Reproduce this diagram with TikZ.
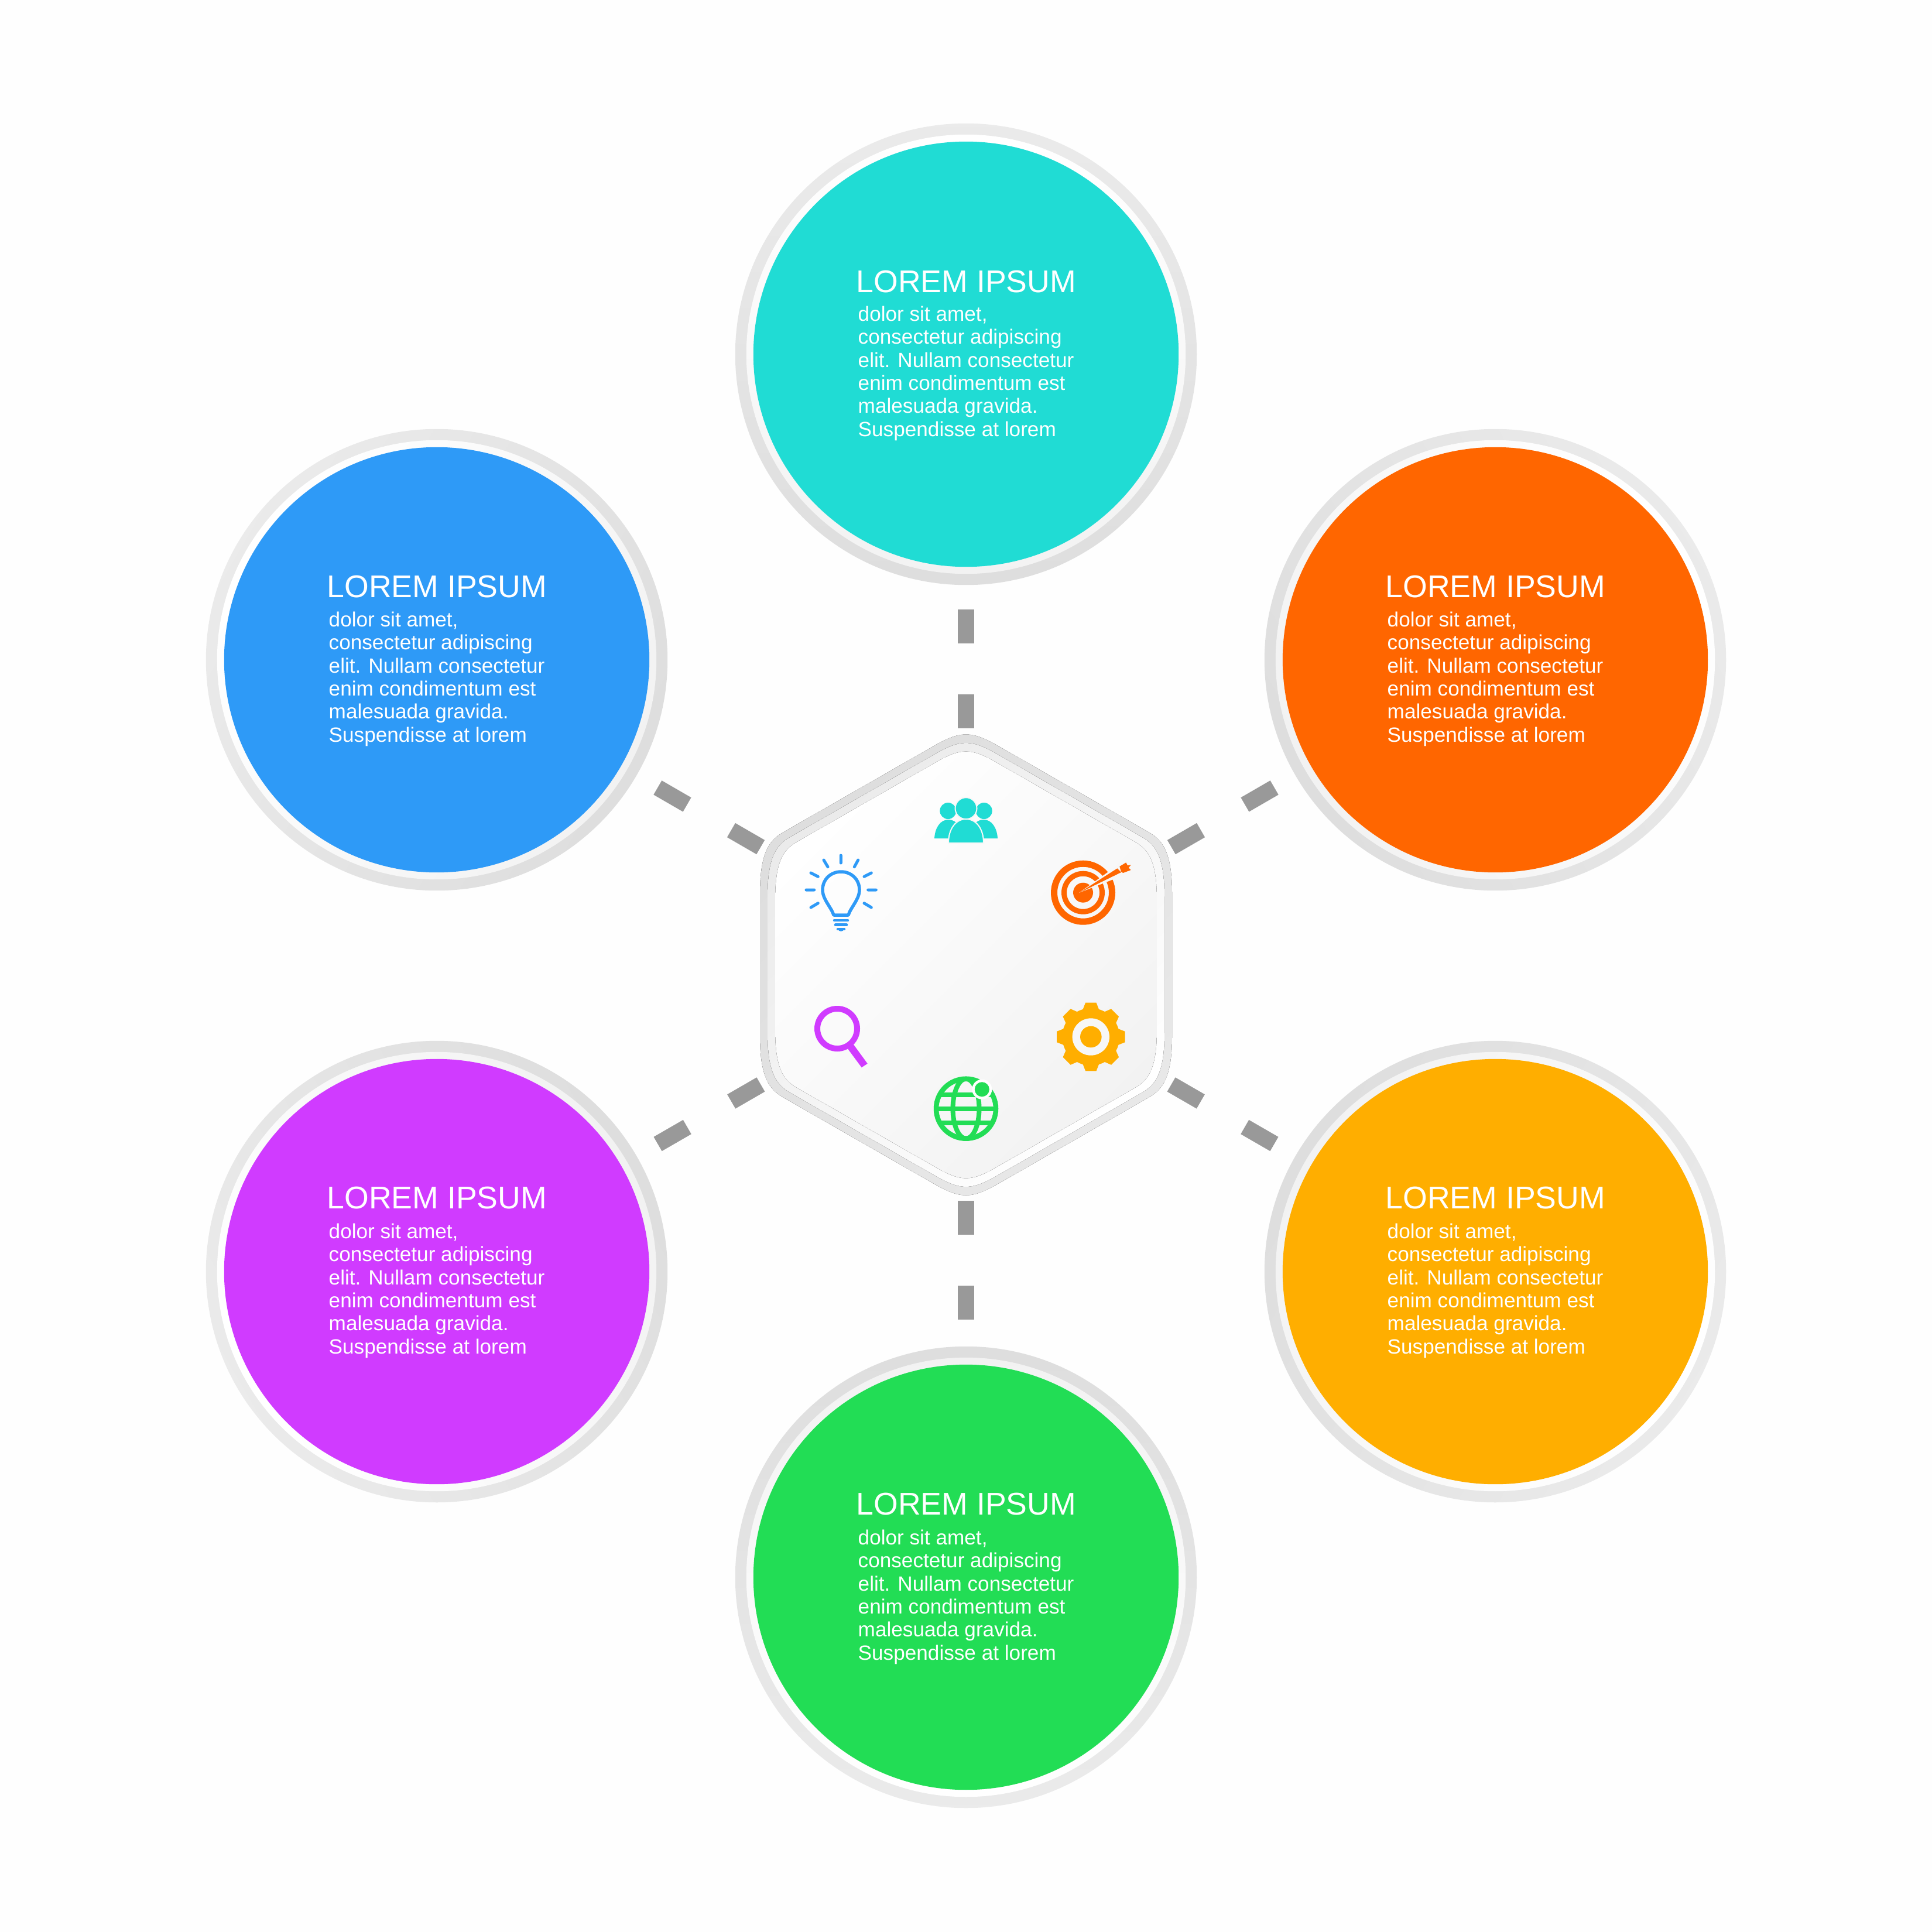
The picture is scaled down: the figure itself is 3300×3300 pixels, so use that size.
\documentclass[tikz,border=0pt]{standalone}
\usepackage{fontspec}
\setmainfont{Liberation Sans}
\definecolor{tealdisk}{HTML}{20DCD4}
\definecolor{orangedisk}{HTML}{FF6600}
\definecolor{amberdisk}{HTML}{FFAE00}
\definecolor{greendisk}{HTML}{22DD55}
\definecolor{violetdisk}{HTML}{D03BFF}
\definecolor{bluedisk}{HTML}{2E9AF7}
\definecolor{hubtone}{HTML}{F7F7F7}
\definecolor{pagetone}{HTML}{FEFEFE}
\tikzset{
	ringouter/.style={circle, inner sep=0pt, minimum size=7.88cm, top color=black!8, bottom color=black!13, shading angle=#1},
	ringinner/.style={circle, inner sep=0pt, minimum size=7.50cm, top color=white, bottom color=black!5, shading angle=#1},
	disk/.style={circle, inner sep=0pt, minimum size=7.26cm, fill=#1},
	headtext/.style={anchor=base west, inner sep=0pt, text=white, font=\fontsize{15.25}{18}\selectfont},
	bodytext/.style={anchor=north west, inner sep=0pt, text=white, align=left, font=\fontsize{10}{11.21}\selectfont},
	spoke/.style={draw=black!40, line width=2.8mm, shorten <=7.2mm, dash pattern=on 5.8mm off 8.7mm on 5.8mm off 100mm},
	bulbline/.style={draw=bluedisk, line width=0.5mm, line cap=round}
}
\newcommand{\dolorbody}{dolor sit amet,\\consectetur adipiscing\\elit. Nullam consectetur\\enim condimentum est\\malesuada gravida.\\Suspendisse at lorem}
\newcommand{\hexoutline}{(0,-393.5) .. controls (15,-393.5) and (30,-388) .. (53,-375) -- (313,-226) .. controls (337,-212) and (352,-190) .. (352,-120) -- (352,120) .. controls (352,190) and (337,212) .. (313,226) -- (53,375) .. controls (30,388) and (15,393.5) .. (0,393.5) .. controls (-15,393.5) and (-30,388) .. (-53,375) -- (-313,226) .. controls (-337,212) and (-352,190) .. (-352,120) -- (-352,-120) .. controls (-352,-190) and (-337,-212) .. (-313,-226) -- (-53,-375) .. controls (-30,-388) and (-15,-393.5) .. (0,-393.5) -- cycle}
\begin{document}
\begin{tikzpicture}[x=0.01cm, y=-0.01cm]
	\useasboundingbox (0,0) rectangle (3300,3300);
	\fill[pagetone] (0,0) rectangle (3300,3300);
	\coordinate (hub) at (1650,1650);

	% 1. rings and disks
	\node[ringouter=0] (rTop) at (1650,605) {};
	\node[ringinner=0] (wTop) at (rTop) {};
	\node[disk=tealdisk] (cTop) at (rTop) {};
	\node[ringouter=-60] (rUpRight) at (2554,1127) {};
	\node[ringinner=-60] (wUpRight) at (rUpRight) {};
	\node[disk=orangedisk] (cUpRight) at (rUpRight) {};
	\node[ringouter=-120] (rLowRight) at (2554,2172) {};
	\node[ringinner=-120] (wLowRight) at (rLowRight) {};
	\node[disk=amberdisk] (cLowRight) at (rLowRight) {};
	\node[ringouter=180] (rBottom) at (1650,2694) {};
	\node[ringinner=180] (wBottom) at (rBottom) {};
	\node[disk=greendisk] (cBottom) at (rBottom) {};
	\node[ringouter=120] (rLowLeft) at (746,2172) {};
	\node[ringinner=120] (wLowLeft) at (rLowLeft) {};
	\node[disk=violetdisk] (cLowLeft) at (rLowLeft) {};
	\node[ringouter=60] (rUpLeft) at (746,1127) {};
	\node[ringinner=60] (wUpLeft) at (rUpLeft) {};
	\node[disk=bluedisk] (cUpLeft) at (rUpLeft) {};

	% 2. texts
	\node[headtext] (tTop) at (1462,499) {LOREM IPSUM};
	\node[bodytext] (bTop) at (1465,522) {\dolorbody};
	\node[headtext] (tUpRight) at (2366,1020) {LOREM IPSUM};
	\node[bodytext] (bUpRight) at (2369,1044) {\dolorbody};
	\node[headtext] (tLowRight) at (2366,2064) {LOREM IPSUM};
	\node[bodytext] (bLowRight) at (2369,2089) {\dolorbody};
	\node[headtext] (tBottom) at (1462,2587) {LOREM IPSUM};
	\node[bodytext] (bBottom) at (1465,2612) {\dolorbody};
	\node[headtext] (tLowLeft) at (558,2064) {LOREM IPSUM};
	\node[bodytext] (bLowLeft) at (561,2089) {\dolorbody};
	\node[headtext] (tUpLeft) at (558,1020) {LOREM IPSUM};
	\node[bodytext] (bUpLeft) at (561,1044) {\dolorbody};

	% 3. dashed spokes
	\draw[spoke] (cTop) -- (hub);
	\draw[spoke] (cUpRight) -- (hub);
	\draw[spoke] (cLowRight) -- (hub);
	\draw[spoke, shorten <=7.6mm] (cBottom) -- (hub);
	\draw[spoke] (cLowLeft) -- (hub);
	\draw[spoke] (cUpLeft) -- (hub);

	% 4. hexagon
	\fill[shift={(1650,1648)}, top color=black!9, bottom color=black!13, shading angle=-135] \hexoutline;
	\fill[shift={(1650,1648)}, scale=.963, top color=white, bottom color=black!8, shading angle=-135] \hexoutline;
	\fill[shift={(1650,1648)}, scale=.926, top color=white, bottom color=black!5, shading angle=45] \hexoutline;

	% 5. people
	\fill[tealdisk] (1596,1432) .. controls (1597,1414) and (1606,1400) .. (1620,1400) .. controls (1634,1400) and (1644,1414) .. (1645,1432) -- cycle;
	\fill[tealdisk] (1655,1432) .. controls (1656,1414) and (1666,1400) .. (1680,1400) .. controls (1694,1400) and (1703,1414) .. (1704,1432) -- cycle;
	\fill[tealdisk] (1619.3,1385) circle (14);
	\fill[tealdisk] (1680.7,1385) circle (14);
	\draw[fill=tealdisk, draw=hubtone, line width=0.2mm] (1620,1440) .. controls (1620,1415) and (1633,1399) .. (1650,1399) .. controls (1667,1399) and (1680,1415) .. (1680,1440) -- cycle;
	\draw[fill=tealdisk, draw=hubtone, line width=0.2mm] (1650,1380.7) circle (18.5);

	% 6. bulb
	\draw[draw=bluedisk, line width=0.55mm, line join=round] (1424,1563) .. controls (1420,1550) and (1405,1536) .. (1405,1520) .. controls (1405,1502) and (1419,1489) .. (1436.5,1489) .. controls (1454,1489) and (1468,1502) .. (1468,1520) .. controls (1468,1536) and (1453,1550) .. (1449,1563) -- cycle;
	\draw[bulbline, line width=0.45mm] (1425,1572) -- (1448,1572) (1427,1579.7) -- (1446,1579.7) (1431,1587) -- (1442,1587);
	\fill[bluedisk] (1431,1587) .. controls (1433,1592) and (1440,1592) .. (1442,1587) -- cycle;
	\draw[bulbline] (1436.3,1461) -- (1436.3,1474) (1407,1469) -- (1414,1480.7) (1465.7,1469) -- (1459.3,1480.7) (1385,1491) -- (1397.3,1497.3) (1488.3,1491) -- (1476,1497.3) (1377,1520) -- (1390.7,1520) (1482.7,1520) -- (1496.3,1520) (1385,1550) -- (1397.3,1542.7) (1488.3,1550) -- (1476,1542.7);

	% 7. target
	\draw[orangedisk, line width=1.1mm] (1850,1524.7) circle (49.5);
	\draw[orangedisk, line width=0.9mm] (1850,1524.7) circle (32.5);
	\fill[orangedisk] (1850,1524.7) circle (17);
	\fill[hubtone] (1843,1525) -- (1896,1487) -- (1904,1501) -- cycle;
	\fill[orangedisk] (1843.3,1525) -- (1908.3,1483.3) -- (1915,1490) -- cycle;
	\fill[orangedisk] (1912.3,1480) -- (1923.3,1473.3) -- (1926,1478.3) -- (1931.7,1477.3) -- (1927.7,1482.3) -- (1931.7,1486) -- (1918.3,1491) -- (1915,1489) -- cycle;

	% 8. gear
	\fill[amberdisk] (1863.3,1771) circle (49);
	\foreach \a in {0,45,...,315}
		\fill[amberdisk, shift={(1863.3,1771)}] (\a-18:47) -- (\a-9:59) -- (\a+9:59) -- (\a+18:47) -- cycle;
	\fill[hubtone] (1863.3,1771) circle (31.7);
	\fill[amberdisk] (1863.3,1771) circle (18.3);

	% 9. globe
	\draw[greendisk, line width=0.85mm] (1650,1893.7) circle (51);
	\draw[greendisk, line width=0.8mm] (1650,1893.7) ellipse (22.5 and 51);
	\draw[greendisk, line width=0.75mm] (1605,1870) -- (1695,1870) (1599,1894) -- (1701,1894) (1605,1918) -- (1695,1918);
	\fill[white] (1677.3,1860.7) circle (17);
	\fill[greendisk] (1677.3,1860.7) circle (12.5);

	% 10. magnifier
	\draw[violetdisk, line width=1mm] (1430,1757) circle (34);
	\fill[violetdisk] (1448.3,1791.7) -- (1457.3,1783.3) -- (1481.7,1816.7) -- (1471.7,1823.3) -- cycle;
\end{tikzpicture}
\end{document}
